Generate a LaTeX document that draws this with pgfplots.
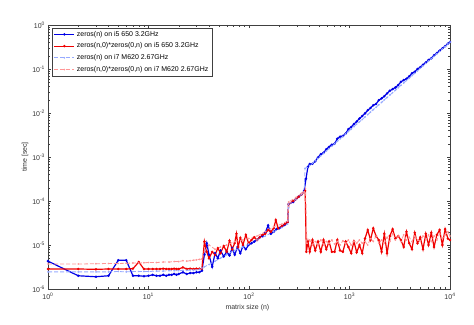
\documentclass[border=0pt]{standalone}
\usepackage{pgfplots}
\pgfplotsset{compat=1.18}
\usepackage{fontspec}
\setmainfont{Liberation Sans}

\definecolor{mblue}{RGB}{0,0,230}
\definecolor{mred}{RGB}{240,0,0}
\definecolor{lblue}{RGB}{150,170,255}
\definecolor{lred}{RGB}{255,150,150}

\begin{document}
\begin{tikzpicture}
\begin{axis}[
  scale only axis,
  width=402bp, height=264bp,
  xmode=log, ymode=log,
  xmin=1, xmax=10000, ymin=1e-6, ymax=1,
  axis line style={black!75},
  tick style={black!75},
  major tick length=3bp, minor tick length=1.8bp,
  xtick={1,10,100,1000,10000},
  xticklabels={10\textsuperscript{0},10\textsuperscript{1},10\textsuperscript{2},10\textsuperscript{3},10\textsuperscript{4}},
  minor xtick={2,3,4,5,6,7,8,9,20,30,40,50,60,70,80,90,200,300,400,500,600,700,800,900,2000,3000,4000,5000,6000,7000,8000,9000},
  ytick={1e-6,1e-5,1e-4,1e-3,1e-2,1e-1,1},
  yticklabels={10\textsuperscript{-6},10\textsuperscript{-5},10\textsuperscript{-4},10\textsuperscript{-3},10\textsuperscript{-2},10\textsuperscript{-1},10\textsuperscript{0}},
  minor ytick={2e-6,3e-6,4e-6,5e-6,6e-6,7e-6,8e-6,9e-6,
               2e-5,3e-5,4e-5,5e-5,6e-5,7e-5,8e-5,9e-5,
               2e-4,3e-4,4e-4,5e-4,6e-4,7e-4,8e-4,9e-4,
               2e-3,3e-3,4e-3,5e-3,6e-3,7e-3,8e-3,9e-3,
               2e-2,3e-2,4e-2,5e-2,6e-2,7e-2,8e-2,9e-2,
               0.2,0.3,0.4,0.5,0.6,0.7,0.8,0.9},
  tick label style={font=\fontsize{7}{8}\selectfont, text=black!80},
  xticklabel style={yshift=-0.5bp},
  yticklabel style={xshift=0.5bp},
  xlabel={matrix size (n)},
  ylabel={time [sec]},
  label style={font=\fontsize{7}{8}\selectfont, text=black!80},
  xlabel style={at={(axis description cs:0.496,-0.072)}, anchor=center},
  ylabel style={at={(axis description cs:-0.057,0.5)}, anchor=center},
  legend cell align=left,
  legend style={at={(axis description cs:0.01,0.989)}, anchor=north west,
    font=\fontsize{7}{8}\selectfont, draw=black!75, inner xsep=1.5bp, inner ysep=1bp,
    row sep=1.2bp},
  legend image code/.code={\draw[mark repeat=2,mark phase=2,#1] plot coordinates {(0bp,0bp) (10bp,0bp) (20bp,0bp)};},
]
% zeros(n) on i5 650
\addplot[mblue, line width=1.2pt, mark=*, mark size=0.55pt] coordinates {
(1,4.3e-6) (2,2.0e-6) (3,1.9e-6) (4,2.0e-6) (5,4.5e-6) (6,4.5e-6) (7,2.0e-6)
(8,2.0e-6) (9,1.95e-6) (10,2.0e-6) (11,2.1e-6) (12,2.0e-6) (13,2.0e-6) (14,2.1e-6)
(15,2.0e-6) (16,2.1e-6) (17,2.1e-6) (18,2.2e-6) (19,2.1e-6) (20,2.2e-6) (22,2.4e-6)
(24,2.2e-6) (26,2.3e-6) (28,2.3e-6) (30,2.4e-6) (32,2.4e-6) (34,2.6e-6) (36,6e-6)
(38,1.1e-5) (40,6e-6) (43,3.2e-6) (46,6.5e-6) (49,5e-6) (52,7.5e-6) (56,5.5e-6)
(60,7e-6) (64,5.8e-6) (68,8.5e-6) (72,6e-6) (77,9e-6) (82,6.5e-6) (87,9.5e-6)
(93,8e-6) (99,1.0e-5) (106,1.1e-5) (113,1.2e-5) (120,1.3e-5) (128,1.5e-5)
(136,1.6e-5) (145,1.9e-5) (155,2.8e-5) (165,1.8e-5) (176,2.0e-5) (188,2.3e-5)
(200,2.4e-5) (213,2.6e-5) (227,2.9e-5) (242,3.3e-5) (248,8.5e-5) (275,9.5e-5)
(293,1.1e-4) (312,1.25e-4) (332,1.4e-4) (354,1.7e-4) (369,3.2e-4) (386,6.0e-4)
(402,6.9e-4) (428,7.0e-4) (456,8.0e-4) (486,9.8e-4) (518,1.15e-3) (552,1.25e-3)
(588,1.5e-3) (626,1.7e-3) (667,1.9e-3) (710,2.0e-3) (757,2.6e-3) (806,2.9e-3)
(859,3.0e-3) (915,3.4e-3) (975,4.3e-3) (1039,4.8e-3) (1107,5.6e-3) (1179,6.4e-3)
(1256,7.5e-3) (1338,8.5e-3) (1426,9.8e-3) (1519,1.15e-2) (1618,1.3e-2) (1724,1.5e-2)
(1837,1.6e-2) (1957,1.95e-2) (2085,2.15e-2) (2221,2.4e-2) (2366,2.8e-2) (2521,3.2e-2)
(2686,3.5e-2) (2861,3.8e-2) (3048,4.3e-2) (3247,5.1e-2) (3460,5.6e-2) (3686,6.0e-2)
(3927,6.8e-2) (4183,8.0e-2) (4457,8.6e-2) (4748,1.0e-1) (5058,1.1e-1) (5389,1.25e-1)
(5741,1.4e-1) (6116,1.6e-1) (6516,1.75e-1) (6942,2.05e-1) (7395,2.3e-1) (7879,2.6e-1)
(8394,2.95e-1) (8942,3.3e-1) (9527,3.75e-1) (10000,4.1e-1)
};
\addlegendentry{zeros(n) on i5 650 3.2GHz}
% zeros(n,0)*zeros(0,n) on i5 650
\addplot[mred, line width=1.2pt, mark=*, mark size=0.55pt] coordinates {
(1,2.85e-6) (2,2.85e-6) (3,2.8e-6) (4,2.85e-6) (5,2.85e-6) (6,2.85e-6) (7,2.9e-6)
(8,4.1e-6) (9,2.85e-6) (10,2.85e-6) (11,2.85e-6) (12,2.85e-6) (13,2.85e-6) (14,2.9e-6)
(15,2.85e-6) (16,2.85e-6) (17,2.85e-6) (18,2.9e-6) (19,2.85e-6) (20,2.85e-6) (22,3.1e-6)
(24,2.85e-6) (26,2.9e-6) (28,2.85e-6) (30,2.9e-6) (32,2.9e-6) (34,2.9e-6) (36,1.2e-5)
(38,7e-6) (40,5e-6) (43,7e-6) (46,6e-6) (49,8.5e-6) (52,6.5e-6) (56,9.5e-6)
(60,7e-6) (64,1.25e-5) (68,8e-6) (72,1.1e-5) (75,1.8e-5) (78,9e-6) (82,1.45e-5)
(87,1.0e-5) (93,1.7e-5) (99,1.1e-5) (106,1.3e-5) (113,1.5e-5) (120,1.3e-5)
(128,1.5e-5) (136,1.7e-5) (145,1.8e-5) (155,2.2e-5) (165,2.0e-5) (176,2.4e-5)
(185,3.7e-5) (195,2.4e-5) (213,2.7e-5) (227,3.0e-5) (242,3.3e-5) (248,8.5e-5)
(275,1.0e-4) (293,1.1e-4) (312,1.25e-4) (332,1.4e-4) (354,1.6e-4) (362,1.7e-4)
(372,7e-6) (386,1.2e-5) (402,7e-6) (428,1.3e-5) (456,7.5e-6) (486,1.2e-5)
(518,7e-6) (552,1.3e-5) (588,8e-6) (626,1.2e-5) (667,7e-6) (710,7e-6) (757,1.3e-5)
(806,7.5e-6) (859,7e-6) (915,1.2e-5) (975,9e-6) (1039,6.5e-6) (1107,1.2e-5)
(1179,6.8e-6) (1256,1.0e-5) (1338,6.5e-6) (1426,1.4e-5) (1519,2.2e-5) (1618,1.3e-5)
(1724,2.4e-5) (1837,1.6e-5) (1957,1.3e-5) (2085,7e-6) (2221,1.8e-5) (2366,6.5e-6)
(2521,1.6e-5) (2686,2.3e-5) (2861,1.4e-5) (3048,1.6e-5) (3247,1.3e-5) (3460,9e-6)
(3686,2.0e-5) (3927,1.1e-5) (4183,8e-6) (4457,1.9e-5) (4748,1.1e-5) (5058,1.5e-5)
(5389,8e-6) (5741,1.8e-5) (6116,1.0e-5) (6516,1.9e-5) (6942,9e-6) (7395,1.7e-5)
(7879,2.2e-5) (8394,1.0e-5) (8942,2.3e-5) (9527,1.4e-5) (10000,1.3e-5)
};
\addlegendentry{zeros(n,0)*zeros(0,n) on i5 650 3.2GHz}
% zeros(n) on i7 M620
\addplot[lblue, line width=0.8pt, dash pattern=on 4bp off 2bp, mark=*, mark size=0.4pt, mark options={solid}] coordinates {
(1,2.45e-6) (2,2.45e-6) (3,2.45e-6) (4,2.45e-6) (5,2.5e-6) (6,2.45e-6) (7,2.5e-6)
(8,2.5e-6) (9,2.5e-6) (10,2.5e-6) (12,2.55e-6) (14,2.55e-6) (16,2.6e-6) (18,2.6e-6)
(20,2.6e-6) (22,2.65e-6) (24,2.65e-6) (26,2.7e-6) (28,2.7e-6) (30,2.7e-6)
(32,2.8e-6) (34,3.0e-6) (36,3.2e-6) (40,3.6e-6) (46,4.3e-6) (52,5e-6) (60,6e-6)
(72,7.5e-6) (87,9e-6) (99,1.05e-5) (120,1.3e-5) (145,1.6e-5) (176,2.0e-5)
(213,2.5e-5) (242,3.0e-5) (248,8.5e-5) (293,1.1e-4) (332,1.4e-4) (354,1.6e-4)
(361,5.5e-4) (377,5.8e-4) (402,6.4e-4) (428,7.2e-4) (456,8.2e-4) (486,9.3e-4)
(518,1.06e-3) (552,1.21e-3) (588,1.37e-3) (626,1.56e-3) (667,1.76e-3) (710,2.0e-3)
(757,2.28e-3) (806,2.58e-3) (859,2.94e-3) (915,3.33e-3) (975,3.79e-3) (1039,4.3e-3)
(1107,4.9e-3) (1179,5.6e-3) (1256,6.3e-3) (1338,7.1e-3) (1426,8.1e-3) (1519,9.2e-3)
(1618,1.05e-2) (1724,1.19e-2) (1837,1.35e-2) (1957,1.54e-2) (2085,1.74e-2)
(2221,1.99e-2) (2366,2.25e-2) (2521,2.56e-2) (2686,2.9e-2) (2861,3.3e-2)
(3048,3.74e-2) (3247,4.26e-2) (3460,4.8e-2) (3686,5.5e-2) (3927,6.2e-2)
(4183,7.0e-2) (4457,8.0e-2) (4748,9.1e-2) (5058,1.04e-1) (5389,1.18e-1)
(5741,1.34e-1) (6116,1.51e-1) (6516,1.72e-1) (6942,1.95e-1) (7395,2.22e-1)
(7879,2.52e-1) (8394,2.86e-1) (8942,3.25e-1) (9527,3.7e-1) (10000,4.1e-1)
};
\addlegendentry{zeros(n) on i7 M620 2.67GHz}
% zeros(n,0)*zeros(0,n) on i7 M620
\addplot[lred, line width=0.8pt, dash pattern=on 4bp off 2bp, mark=*, mark size=0.4pt, mark options={solid}] coordinates {
(1,3.7e-6) (2,3.7e-6) (3,3.75e-6) (4,3.8e-6) (5,3.8e-6) (6,3.85e-6) (7,3.9e-6)
(8,3.9e-6) (9,3.95e-6) (10,4.0e-6) (12,4.0e-6) (14,4.1e-6) (16,4.1e-6) (18,4.2e-6)
(20,4.2e-6) (22,4.4e-6) (24,4.3e-6) (26,4.4e-6) (28,4.5e-6) (30,4.6e-6)
(32,4.7e-6) (34,4.8e-6) (36,7e-6) (40,1.0e-5) (46,8e-6) (52,9e-6) (60,1.0e-5)
(72,1.2e-5) (87,1.3e-5) (99,1.4e-5) (120,1.6e-5) (145,2.0e-5) (176,2.6e-5)
(213,3.0e-5) (242,3.5e-5) (248,9.5e-5) (293,1.2e-4) (332,1.5e-4) (354,1.6e-4)
(365,1.9e-4) (377,1.1e-5) (402,1.3e-5) (428,1.0e-5) (456,1.2e-5) (486,1.05e-5)
(518,1.3e-5) (552,1.0e-5) (588,1.2e-5) (626,1.1e-5) (667,1.3e-5) (710,1.05e-5)
(757,1.2e-5) (806,1.0e-5) (859,1.25e-5) (915,1.1e-5) (975,1.3e-5) (1039,1.0e-5)
(1107,1.2e-5) (1179,1.1e-5) (1256,1.3e-5) (1338,1.1e-5) (1426,1.2e-5) (1519,1.0e-5)
(1618,1.4e-5) (1724,1.2e-5) (1837,1.6e-5) (1957,1.1e-5) (2085,1.3e-5) (2221,1.1e-5)
(2366,1.5e-5) (2521,1.2e-5) (2686,1.8e-5) (2861,1.3e-5) (3048,1.6e-5) (3247,1.2e-5)
(3460,1.7e-5) (3686,1.3e-5) (3927,1.5e-5) (4183,1.2e-5) (4457,1.6e-5) (4748,1.3e-5)
(5058,1.2e-5) (5389,1.6e-5) (5741,1.3e-5) (6116,1.7e-5) (6516,1.2e-5) (6942,1.6e-5)
(7395,1.3e-5) (7879,1.8e-5) (8394,1.4e-5) (8942,1.7e-5) (9527,2.0e-5) (10000,1.6e-5)
};
\addlegendentry{zeros(n,0)*zeros(0,n) on i7 M620 2.67GHz}
\end{axis}
\pgfresetboundingbox
\path (-48bp,-36bp) rectangle (426bp,289bp);
\end{tikzpicture}
\end{document}
